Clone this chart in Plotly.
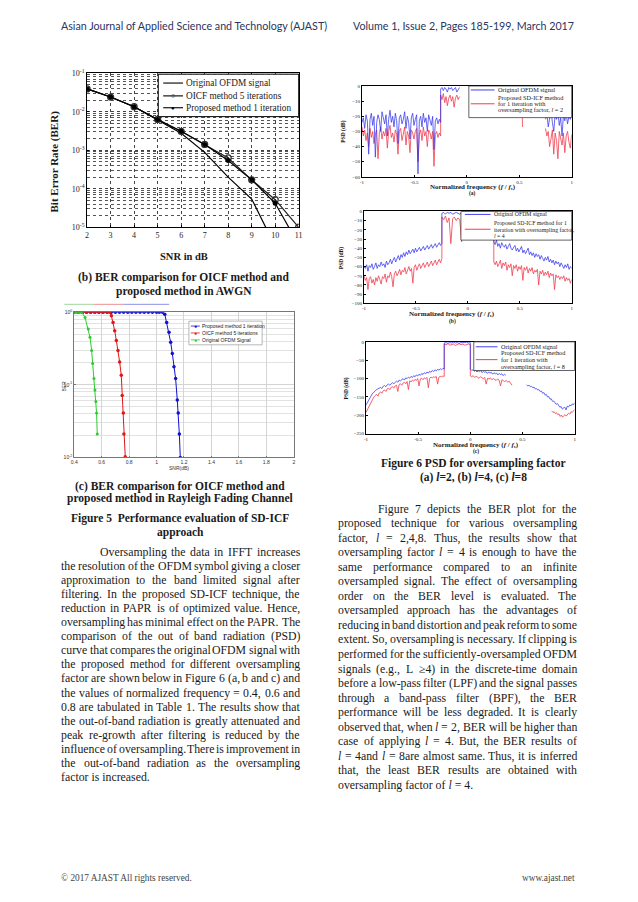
import re
import numpy as np
import plotly.graph_objects as go

W, H = 638, 902
SERIF = "Liberation Serif"
SANS = "Liberation Sans"
HEAD = "Lato"

def fx(x):
    return x / W

def fy(y):
    return 1 - y / H

# ---------------- Fig 5(b): BER in AWGN ----------------
snr_db_original = [2, 3, 4, 5, 6, 7, 8, 9, 10]
ber_original = [0.039, 0.024, 0.0135, 0.0062, 0.00275, 0.00088, 0.0002, 0.000054, 0.0000032]
snr_db = [2, 3, 4, 5, 6, 7, 8, 9, 10, 11]
ber_oicf_5iter = [0.039, 0.024, 0.0135, 0.0063, 0.0031, 0.00141, 0.00063, 0.00017, 0.000052, 0.00001]
ber_proposed_1iter = [0.039, 0.024, 0.0135, 0.0063, 0.0031, 0.00141, 0.00054, 0.00017, 0.000042, 0.0000035]
awgn_xticks = [2, 3, 4, 5, 6, 7, 8, 9, 10, 11]
awgn_yticks = [1e-5, 1e-4, 1e-3, 1e-2, 1e-1]
awgn_yticktext = ["10<sup>-5</sup>", "10<sup>-4</sup>", "10<sup>-3</sup>", "10<sup>-2</sup>", "10<sup>-1</sup>"]

# ---------------- Fig 5(c): BER in Rayleigh fading ----------------
ray_prop_snr = [0.40, 0.43, 0.46, 0.49, 0.52, 0.55, 0.58, 0.61, 0.64, 0.67, 0.70, 0.73, 0.76, 0.79, 0.82,
                0.85, 0.88, 0.91, 0.94, 0.97, 1.00, 1.02, 1.043, 1.06, 1.074, 1.091, 1.103, 1.115, 1.127,
                1.139, 1.151, 1.158, 1.166, 1.173]
ray_prop_ber = [1, 1, 1, 1, 1, 1, 1, 1, 1, 1, 1, 1, 1, 1, 1, 1, 1, 1, 1, 1, 1, 1, 1.0, 0.94, 0.724, 0.528,
                0.386, 0.269, 0.177, 0.122, 0.062, 0.041, 0.021, 0.0100]
ray_oicf_snr = [0.40, 0.43, 0.46, 0.49, 0.52, 0.55, 0.58, 0.61, 0.64, 0.659, 0.671, 0.683, 0.695, 0.707,
                0.719, 0.731, 0.743, 0.750, 0.758, 0.762, 0.772]
ray_oicf_ber = [1, 1, 1, 1, 1, 1, 1, 1, 1, 1, 0.891, 0.724, 0.557, 0.407, 0.298, 0.207, 0.136, 0.071,
                0.041, 0.021, 0.0102]
ray_orig_snr = [0.40, 0.415, 0.43, 0.445, 0.455, 0.479, 0.503, 0.515, 0.527, 0.534, 0.544, 0.551, 0.558,
                0.563, 0.568]
ray_orig_ber = [1, 1, 1, 1, 1, 0.845, 0.587, 0.452, 0.298, 0.196, 0.122, 0.085, 0.059, 0.041, 0.021]
ray_xticks = [0.4, 0.6, 0.8, 1, 1.2, 1.4, 1.6, 1.8, 2]
ray_xticktext = ["0.4", "0.6", "0.8", "1", "1.2", "1.4", "1.6", "1.8", "2"]
ray_yticks = [0.01, 0.1, 1]
ray_yticktext = ["10<sup>-2</sup>", "10<sup>-1</sup>", "10<sup>0</sup>"]

# ---------------- Fig 6: PSD (dB) segments ----------------
psd_xticks = [-1, -0.5, 0, 0.5, 1]
psd_xticktext = ["-1", "-0.5", "0", "0.5", "1"]

# (a) l = 2
psd_a_orig_left = [-24, -21, -28, -19, -23, -45, -22, -18, -26, -20, -47, -24, -19, -22, -30, -17, -21, -25,
                   -19, -33, -22, -16, -24, -20, -27, -18, -23, -38, -21, -19, -25, -22, -17, -28, -20, -24,
                   -35, -21, -18, -26, -22, -19, -58, -23, -20, -27, -18, -24, -21, -30, -19, -22, -26, -20,
                   -42, -23, -21, -25, -22, -24]
psd_a_orig_band = [-2, -1, -3, -1, -2, -4, -1, -2, -1, -3, -2, -1, -4, -2, -1]
psd_a_orig_right = [-22, -18, -27, -20, -16, -24, -30, -19, -22, -17, -26, -21, -33, -19, -23, -18, -25,
                    -20, -22, -16]
psd_a_prop_left = [-27, -33, -29, -36, -31, -40, -28, -34, -30, -38, -32, -29, -48, -31, -27, -35, -30, -33,
                   -28, -41, -30, -26, -34, -31, -37, -29, -32, -45, -30, -28, -36, -31, -27, -39, -30, -33,
                   -44, -29, -31, -35, -30, -28, -50, -32, -29, -36, -27, -33, -30, -40, -29, -31, -35, -30,
                   -53, -32, -30, -34, -31, -33]
psd_a_prop_band = [-6, -9, -5, -11, -7, -13, -8, -6, -10, -7, -14, -8, -6, -9, -7]
psd_a_prop_spike = [-21, -27]
psd_a_prop_right = [-28, -33, -30, -40, -35, -29, -45, -31, -36, -48, -30, -34, -39, -31, -44, -33, -30,
                    -37, -41, -32]

# (b) l = 4
psd_b_orig_left = [-60, -62, -58, -65, -59, -61, -57, -63, -60, -56, -62, -58, -60, -55, -59, -57, -61, -54,
                   -58, -56, -52, -57, -53, -50, -55, -51, -48, -53, -47, -50, -45, -49, -44, -47, -42, -46,
                   -43, -41, -45, -40, -44, -42, -39, -43, -40, -38, -42, -39, -37, -41, -38, -36, -40, -37,
                   -35, -39, -36, -34, -37, -35]
psd_b_orig_band = [-2, -1, -3, -1, -2, -1, -3, -2, -1, -2, -3, -1, -2, -1, -2, -3, -1, -2, -1, -3, -2, -1,
                   -2, -1, -3, -2, -1, -2, -1, -2]
psd_b_orig_right = [-33, -36, -31, -38, -35, -40, -34, -37, -39, -36, -41, -38, -35, -40, -42, -39, -37, -43,
                    -40, -44, -41, -38, -45, -42, -46, -43, -40, -47, -44, -48, -45, -50, -46, -49, -47, -52,
                    -48, -51, -54, -50, -53, -49, -55, -52, -56, -53, -58, -54, -57, -55, -60, -56, -59, -62,
                    -58, -61, -57, -63, -60, -62]
psd_b_prop_left = [-70, -75, -72, -85, -73, -71, -78, -74, -80, -72, -76, -70, -74, -79, -71, -73, -68, -77,
                   -70, -72, -66, -71, -82, -68, -65, -70, -67, -63, -69, -64, -66, -61, -68, -63, -60, -65,
                   -62, -78, -61, -58, -64, -60, -57, -62, -59, -56, -61, -58, -55, -60, -57, -54, -59, -56,
                   -53, -58, -55, -52, -56, -51]
psd_b_prop_band = [-6, -9, -5, -12, -7, -35, -8, -6, -10, -7, -9, -33, -6, -8, -5, -9, -7, -6, -10, -8, -5,
                   -9, -7, -6, -8, -10, -7, -5, -9, -6]
psd_b_prop_right = [-55, -58, -54, -60, -57, -53, -62, -56, -59, -55, -64, -58, -61, -57, -70, -59, -62, -58,
                    -65, -60, -63, -59, -75, -61, -64, -60, -67, -62, -65, -61, -68, -64, -66, -63, -80, -65,
                    -68, -64, -70, -66, -69, -65, -72, -67, -70, -68, -85, -69, -72, -70, -74, -71, -73, -70,
                    -76, -72, -75, -73, -78, -74]

# (c) l = 8
psd_c_orig_left = [-172, -165, -158, -150, -146, -140, -137, -133, -130, -128, -126, -124, -127, -121, -119,
                   -122, -117, -115, -118, -113, -111, -114, -109, -107, -110, -104, -106, -102, -100, -104,
                   -98, -100, -96, -99, -94, -97, -92, -95, -90, -93, -88, -91, -86, -89, -84, -87, -82, -85,
                   -80, -83, -78, -81, -76, -79, -75, -77, -73, -76, -72, -74]
psd_c_orig_band = [-3, -2, -4, -2, -3, -1, -3, -2, -4, -2, -3, -2, -1, -3, -2]
psd_c_orig_mid = [-74, -78, -76, -80, -77, -82, -79, -81, -78, -84, -80, -83, -81, -86, -82, -85, -83, -88,
                  -84, -87, -85, -90, -86, -89, -87, -92, -88, -91]
psd_c_orig_far = [-117, -120, -118, -122, -121, -125, -123, -128, -127, -131, -130, -135, -134, -140, -138,
                  -145, -143, -150, -149, -156, -155, -162, -161, -167, -170, -168, -175, -178, -176, -183,
                  -180, -178, -185, -175, -177, -172, -174, -169, -171, -166]
psd_c_prop_left = [-192, -185, -176, -168, -160, -155, -150, -146, -143, -148, -139, -136, -140, -133, -131,
                   -135, -128, -126, -130, -124, -122, -126, -120, -118, -135, -116, -114, -118, -112, -110,
                   -114, -108, -130, -106, -109, -104, -107, -102, -105, -100, -120, -101, -99, -103, -98,
                   -100, -97, -125, -99, -96, -98, -95, -97, -94, -115, -96, -94, -95, -93, -94]
psd_c_prop_band = [-6, -8, -5, -9, -7, -6, -10, -7, -5, -8, -6, -9, -7, -6, -8]
psd_c_prop_mid = [-93, -95, -92, -97, -94, -96, -99, -95, -98, -100, -97, -115, -99, -101, -98, -103, -100,
                  -102, -105, -101, -104, -120, -103, -106, -108, -105, -110, -107, -112, -118]
psd_c_prop_far = [-188, -192, -190, -195, -193, -198, -196, -203, -199, -205, -201, -198, -202, -196, -194,
                  -197, -190, -192, -186, -184]


def build(parts):
    xs, ys = [], []
    for p in parts:
        if p is None:
            xs.append(None)
            ys.append(None)
            continue
        x0, x1, vals = p
        xs += list(np.linspace(x0, x1, len(vals)))
        ys += list(vals)
    return xs, ys


BLUE = "#2b2bf0"
RED = "#f0283c"

fig = go.Figure()

# ---- Fig 5(b) traces
fig.add_trace(go.Scatter(x=snr_db_original, y=ber_original, mode="lines",
                         line=dict(color="black", width=1.2), xaxis="x", yaxis="y"))
fig.add_trace(go.Scatter(x=snr_db, y=ber_oicf_5iter, mode="lines+markers",
                         line=dict(color="#222", width=1.2),
                         marker=dict(symbol="circle-open", size=6, color="#333", line=dict(width=1.3)),
                         xaxis="x", yaxis="y"))
fig.add_trace(go.Scatter(x=snr_db, y=ber_proposed_1iter, mode="lines+markers",
                         line=dict(color="black", width=1.2),
                         marker=dict(symbol="circle", size=5, color="black"),
                         xaxis="x", yaxis="y"))

# ---- Fig 5(c) traces
fig.add_trace(go.Scatter(x=ray_prop_snr, y=ray_prop_ber, mode="lines+markers",
                         line=dict(color="#1010d0", width=1), marker=dict(size=3.5, color="#1010d0"),
                         xaxis="x2", yaxis="y2"))
fig.add_trace(go.Scatter(x=ray_oicf_snr, y=ray_oicf_ber, mode="lines+markers",
                         line=dict(color="#e01818", width=1), marker=dict(size=3.5, color="#e01818"),
                         xaxis="x2", yaxis="y2"))
fig.add_trace(go.Scatter(x=ray_orig_snr, y=ray_orig_ber, mode="lines+markers",
                         line=dict(color="#2ccc2c", width=1), marker=dict(size=3, color="#2ccc2c"),
                         xaxis="x2", yaxis="y2"))

# ---- Fig 6 traces
psd_sets = [
    ("x3", "y3",
     [(-1, -0.25, psd_a_prop_left), (-0.25, -0.07, psd_a_prop_band), None, (0.529, 0.531, psd_a_prop_spike),
      None, (0.75, 1, psd_a_prop_right)],
     [(-1, -0.25, psd_a_orig_left), (-0.25, -0.07, psd_a_orig_band), None, (0.75, 1, psd_a_orig_right)]),
    ("x4", "y4",
     [(-1, -0.25, psd_b_prop_left), (-0.25, 0.25, psd_b_prop_band), (0.25, 1, psd_b_prop_right)],
     [(-1, -0.25, psd_b_orig_left), (-0.25, 0.25, psd_b_orig_band), (0.25, 1, psd_b_orig_right)]),
    ("x5", "y5",
     [(-1, -0.25, psd_c_prop_left), (-0.25, 0.0, psd_c_prop_band), (0.0, 0.40, psd_c_prop_mid), None,
      (0.78, 1, psd_c_prop_far)],
     [(-1, -0.25, psd_c_orig_left), (-0.25, 0.0, psd_c_orig_band), (0.0, 0.34, psd_c_orig_mid), None,
      (0.54, 1, psd_c_orig_far)]),
]
for xa, ya, prop_parts, orig_parts in psd_sets:
    px_, py_ = build(prop_parts)
    ox_, oy_ = build(orig_parts)
    fig.add_trace(go.Scatter(x=px_, y=py_, mode="lines", line=dict(color=RED, width=0.8),
                             opacity=0.9, xaxis=xa, yaxis=ya))
    fig.add_trace(go.Scatter(x=ox_, y=oy_, mode="lines", line=dict(color=BLUE, width=0.8),
                             opacity=0.9, xaxis=xa, yaxis=ya))

# ---------------- axes ----------------
def dom_x(l, r):
    return [fx(l), fx(r)]

def dom_y(t, b):
    return [fy(b), fy(t)]

def axis(**kw):
    base = dict(showline=True, mirror=True, linecolor="black", linewidth=0.8, zeroline=False,
                showgrid=False, ticks="inside", ticklen=2, tickcolor="black",
                tickfont=dict(size=5, family=SERIF, color="#222"), fixedrange=True)
    base.update(kw)
    return base

layout = dict(width=W, height=H, margin=dict(l=0, r=0, t=0, b=0), paper_bgcolor="white",
              plot_bgcolor="white", showlegend=False)

dotgrid = dict(showgrid=True, gridcolor="#444", griddash="dot", gridwidth=0.7)
layout["xaxis"] = axis(domain=dom_x(85, 299), anchor="y", range=[2, 11], tickvals=awgn_xticks,
                       tickfont=dict(size=8, family=SERIF, color="#222"), linewidth=1, **dotgrid)
layout["yaxis"] = axis(domain=dom_y(68, 224), anchor="x", type="log", range=[-5, -1],
                       tickvals=awgn_yticks, ticktext=awgn_yticktext,
                       tickfont=dict(size=8, family=SERIF, color="#222"), linewidth=1,
                       minor=dict(dtick="D1", showgrid=True, gridcolor="#555", griddash="dot",
                                  gridwidth=0.6, ticks=""), **dotgrid)

lgrid = dict(showgrid=True, gridcolor="#d4d4d4", gridwidth=0.6)
layout["xaxis2"] = axis(domain=dom_x(72, 294), anchor="y2", range=[0.4, 2], tickvals=ray_xticks,
                        ticktext=ray_xticktext,
                        tickfont=dict(size=5, family=SANS, color="#333"), linecolor="#777",
                        tickcolor="#777", **lgrid)
layout["yaxis2"] = axis(domain=dom_y(310, 457), anchor="x2", type="log", range=[-2, 0],
                        tickvals=ray_yticks, ticktext=ray_yticktext,
                        tickfont=dict(size=5, family=SANS, color="#333"), linecolor="#777",
                        tickcolor="#777",
                        minor=dict(dtick="D1", showgrid=True, gridcolor="#e2e2e2", gridwidth=0.5, ticks=""),
                        **lgrid)

psd_axes = [("xaxis3", "yaxis3", "x3", "y3", (363, 575, 81, 173), [-60, 0], 10),
            ("xaxis4", "yaxis4", "x4", "y4", (365, 575, 208, 301), [-100, 0], 10),
            ("xaxis5", "yaxis5", "x5", "y5", (367, 578, 340, 433), [-250, 0], 50)]
for xk, yk, xn, yn, (l, r, t, b), yr, dt in psd_axes:
    layout[xk] = axis(domain=dom_x(l, r), anchor=yn, range=[-1, 1], tickvals=psd_xticks,
                      ticktext=psd_xticktext)
    layout[yk] = axis(domain=dom_y(t, b), anchor=xn, range=yr, dtick=dt)

# ---------------- text & shapes ----------------
ann = []
shp = []

def T(x, y, s, size, family=SERIF, color="#1a1a1a", xa="left", ya="middle", angle=0):
    ann.append(dict(x=fx(x), y=fy(y), xref="paper", yref="paper", text=s, showarrow=False,
                    xanchor=xa, yanchor=ya, textangle=angle, borderpad=0,
                    font=dict(size=size, family=family, color=color)))

def RECT(x0, y0, x1, y1, lc="black", lw=0.7, fill="white"):
    shp.append(dict(type="rect", xref="paper", yref="paper", x0=fx(x0), x1=fx(x1), y0=fy(y1), y1=fy(y0),
                    line=dict(color=lc, width=lw), fillcolor=fill, layer="above"))

def LINE(x0, x1, y, c, lw=1):
    shp.append(dict(type="line", xref="paper", yref="paper", x0=fx(x0), x1=fx(x1), y0=fy(y), y1=fy(y),
                    line=dict(color=c, width=lw), layer="above"))

# header / footer
T(58, 20, "Asian Journal of Applied Science and Technology (AJAST)", 10.7, HEAD, "#2a3560")
T(578, 20, "Volume 1, Issue 2, Pages 185-199, March 2017", 10.7, HEAD, "#2a3560", xa="right")
T(58, 883, "© 2017 AJAST All rights reserved.", 9.3, SERIF, "#444")
T(579, 883, "www.ajast.net", 9.3, SERIF, "#444", xa="right")

# Fig 5(b) labels and legend
T(52, 157, "<b>Bit Error Rate (BER)</b>", 11, angle=-90, xa="center")
T(183, 254, "<b>SNR in dB</b>", 10.5, xa="center")
T(183, 275, "<b>(b) BER comparison for OICF method and</b>", 11.5, xa="center")
T(183, 289, "<b>proposed method in AWGN</b>", 11.5, xa="center")
RECT(157, 69, 299, 112, lw=1)
for yy, name, mk in [(78, "Original OFDM signal", None), (91, "OICF method 5 iterations", "○"),
                     (103, "Proposed method 1 iteration", "●")]:
    LINE(162, 182, yy, "black", 1.1)
    if mk:
        T(172, yy, mk, 7 if mk == "○" else 6, SANS, "black", xa="center")
    T(184, yy, name, 9.3)

# colored strip (top edge of next figure)
LINE(62, 92, 302, "#9fd79f", 1)
LINE(92, 122, 302, "#e89090", 1)
LINE(122, 168, 302, "#9090e8", 1)

# Fig 5(c) labels and legend
T(62, 385, "BER", 5, SANS, "#333", angle=-90, xa="center")
T(178, 468, "SNR(dB)", 5, SANS, "#333", xa="center")
RECT(188, 319, 262, 343, lc="#888", lw=0.6)
for yy, name, c in [(324, "Proposed method 1 iteration", "#1010d0"), (331, "OICF method 5 iterations", "#e01818"),
                    (338, "Original OFDM Signal", "#2ccc2c")]:
    LINE(190, 199, yy, c, 0.8)
    T(194.5, yy, "●", 5, SANS, c, xa="center")
    T(200, yy, name, 5, SANS, "#222")
T(179, 486, "<b>(c) BER comparison for OICF method and</b>", 11.5, xa="center")
T(179, 499, "<b>proposed method in Rayleigh Fading Channel</b>", 11.5, xa="center")
T(179, 519, "<b>Figure 5  Performance evaluation of SD-ICF</b>", 11.5, xa="center")
T(179, 533, "<b>approach</b>", 11.5, xa="center")

# Fig 6 labels and legends
psd_labels = [(475, 183, 190, 344, 127, "(a)"), (454, 312, 319, 343, 255, "(b)"), (478, 444, 451, 347, 387, "(c)")]
for cx, ty, sy, yx, yy, sub in psd_labels:
    T(cx, ty, "<b>Normalized frequency (<i>f</i> / <i>f</i><sub>s</sub>)</b>", 7, xa="center")
    T(cx, sy, "<b>" + sub + "</b>", 5.5, xa="center")
    T(yx, yy, "<b>PSD (dB)</b>", 5.5, angle=-90, xa="center")

psd_legends = [
    ((471, 81, 575, 113), (473, 497, 499), 85, 99, [93, 99, 105],
     ["Proposed SD-ICF method", "for 1 iteration with", "oversampling factor, <i>l</i> = 2"], 6.3),
    ((463, 208, 575, 237), (467, 493, 495), 211, 226, [220, 227, 233],
     ["Proposed SD-ICF method for 1", "iteration with oversampling factor,", "<i>l</i> = 4"], 5.8),
    ((476, 340, 578, 369), (478, 500, 503), 345, 358, [351, 358, 365],
     ["Proposed SD-ICF method", "for 1 iteration with", "oversampling factor, <i>l</i> = 8"], 6.2),
]
for (bx0, by0, bx1, by1), (lx0, lx1, tx), oy, ry, tys, lines, fs in psd_legends:
    RECT(bx0, by0, bx1, by1, lc="#222", lw=0.7)
    LINE(lx0, lx1, oy, BLUE, 0.9)
    T(tx, oy, "Original OFDM signal", fs)
    LINE(lx0, lx1, ry, RED, 0.9)
    for ty, s in zip(tys, lines):
        T(tx, ty, s, fs)

T(476, 463, "<b>Figure 6 PSD for oversampling factor</b>", 11.5, xa="center")
T(476, 477, "<b>(a) <i>l</i>=2, (b) <i>l</i>=4, (c) <i>l</i>=8</b>", 11.5, xa="center")

# ---------------- justified paragraphs ----------------
TW = {' ': 250, 'a': 444, 'b': 500, 'c': 444, 'd': 500, 'e': 444, 'f': 333, 'g': 500, 'h': 500, 'i': 278,
      'j': 278, 'k': 500, 'l': 278, 'm': 778, 'n': 500, 'o': 500, 'p': 500, 'q': 500, 'r': 333, 's': 389,
      't': 278, 'u': 500, 'v': 500, 'w': 722, 'x': 500, 'y': 500, 'z': 444, 'A': 722, 'B': 667, 'C': 667,
      'D': 722, 'E': 611, 'F': 556, 'G': 722, 'H': 722, 'I': 333, 'J': 389, 'K': 722, 'L': 611, 'M': 889,
      'N': 722, 'O': 722, 'P': 556, 'Q': 722, 'R': 667, 'S': 556, 'T': 611, 'U': 722, 'V': 722, 'W': 944,
      'X': 722, 'Y': 722, 'Z': 611, '.': 250, ',': 250, '(': 333, ')': 333, '-': 333, '=': 564, ':': 278,
      ';': 278, '≥': 549, '/': 278}

def tw(s, size):
    s = re.sub(r"<[^>]+>", "", s)
    return sum(TW.get(ch, 500) for ch in s) * size / 1000.0

def paragraph(lines, xl, xr, y0, dy, size, indent):
    for i, line in enumerate(lines):
        y = y0 + i * dy
        x0 = xl + (indent if i == 0 else 0)
        words = line.split()
        if i == len(lines) - 1 or len(words) < 2:
            T(x0, y, " ".join(words), size)
            continue
        widths = [tw(w, size) for w in words]
        gap = (xr - x0 - sum(widths)) / (len(words) - 1)
        x = x0
        for w, wd in zip(words, widths):
            T(x, y, w, size)
            x += wd + gap

left_par = [
    "Oversampling the data in IFFT increases",
    "the resolution of the OFDM symbol giving a closer",
    "approximation to the band limited signal after",
    "filtering. In the proposed SD-ICF technique, the",
    "reduction in PAPR is of optimized value. Hence,",
    "oversampling has minimal effect on the PAPR. The",
    "comparison of the out of band radiation (PSD)",
    "curve that compares the original OFDM signal with",
    "the proposed method for different oversampling",
    "factor are shown below in Figure 6 (a, b and c) and",
    "the values of normalized frequency = 0.4, 0.6 and",
    "0.8 are tabulated in Table 1. The results show that",
    "the out-of-band radiation is greatly attenuated and",
    "peak re-growth after filtering is reduced by the",
    "influence of oversampling. There is improvement in",
    "the out-of-band radiation as the oversampling",
    "factor is increased.",
]
right_par = [
    "Figure 7 depicts the BER plot for the",
    "proposed technique for various oversampling",
    "factor, <i>l</i> = 2,4,8. Thus, the results show that",
    "oversampling factor <i>l</i> = 4 is enough to have the",
    "same performance compared to an infinite",
    "oversampled signal. The effect of oversampling",
    "order on the BER level is evaluated. The",
    "oversampled approach has the advantages of",
    "reducing in band distortion and peak reform to some",
    "extent. So, oversampling is necessary. If clipping is",
    "performed for the sufficiently-oversampled OFDM",
    "signals (e.g., L ≥4) in the discrete-time domain",
    "before a low-pass filter (LPF) and the signal passes",
    "through a band-pass filter (BPF), the BER",
    "performance will be less degraded. It is clearly",
    "observed that, when <i>l</i> = 2, BER will be higher than",
    "case of applying <i>l</i> = 4. But, the BER results of",
    "<i>l</i> = 4and <i>l</i> = 8are almost same. Thus, it is inferred",
    "that, the least BER results are obtained with",
    "oversampling factor of <i>l</i> = 4.",
]
paragraph(left_par, 58, 299, 553, 14.2, 11.8, 39)
paragraph(right_par, 338, 579, 509, 14.7, 11.8, 40)

layout["annotations"] = ann
layout["shapes"] = shp
fig.update_layout(**layout)
fig.write_html("out.html", config={"displayModeBar": False},
               post_script="document.body.style.margin='0';document.body.style.padding='0';"
                           "document.body.style.overflow='hidden';")
